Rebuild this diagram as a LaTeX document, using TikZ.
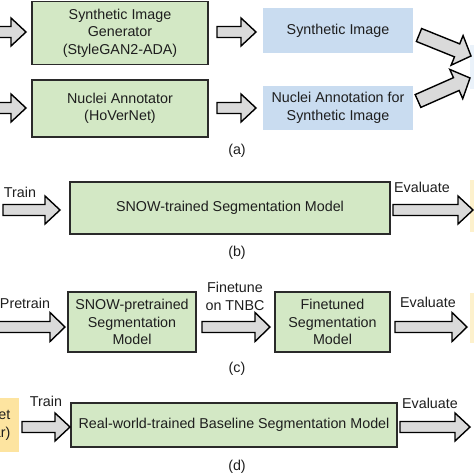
\documentclass[tikz,border=0pt]{standalone}
\usepackage{fontspec}
\setmainfont{Liberation Sans}
\usetikzlibrary{calc}
\definecolor{gfill}{HTML}{D3E8C5}
\definecolor{bfill}{HTML}{C9DCF0}
\definecolor{yfill}{HTML}{FDE4A0}
\definecolor{yfaint}{HTML}{FDF1CC}
\definecolor{bfaint}{HTML}{EAF2FA}
\definecolor{afill}{HTML}{DADADA}
\definecolor{dline}{HTML}{2A2A2A}
\definecolor{txt}{HTML}{1E1E1E}
% \blockarr[body half][head half]{start}{end}
\newcommand{\blockarr}[4][5.5pt]{%
  \coordinate (tmpH) at ($(#4)!15pt!(#3)$);
  \draw[barr] ($(#3)!#1!90:(#4)$) -- ($(tmpH)!#1!90:(#4)$) -- ($(tmpH)!#2!90:(#4)$) -- (#4)
    -- ($(tmpH)!#2!-90:(#4)$) -- ($(tmpH)!#1!-90:(#4)$) -- ($(#3)!#1!-90:(#4)$) -- cycle;}
\begin{document}
\begin{tikzpicture}[x=1pt,y=-1pt,
  font=\fontsize{14.3}{17.5}\selectfont,
  gbox/.style={draw=dline, line width=1.4pt, fill=gfill, align=center, inner sep=0pt, text=txt},
  bbox/.style={fill=bfill, align=center, inner sep=0pt, text=txt},
  lbl/.style={align=center, inner sep=0pt, text=txt},
  barr/.style={draw=black, line width=1.4pt, fill=afill, line join=miter}]
\useasboundingbox (0,0) rectangle (474,474);
\clip (0,0) rectangle (474,474);
\fill[white] (0,0) rectangle (474,474);

% ---------- (a)
\node[gbox, minimum width=176pt, minimum height=63pt] (g1) at (120,33) {Synthetic Image\\Generator\\(StyleGAN2-ADA)};
\node[gbox, minimum width=176pt, minimum height=57pt] (g2) at (120,108.5) {Nuclei Annotator\\(HoVerNet)};
\node[bbox, minimum width=150pt, minimum height=45pt] (b1) at (338,30.5) {Synthetic Image};
\node[bbox, minimum width=150pt, minimum height=44pt] (b2) at (338,108) {Nuclei Annotation for\\Synthetic Image};
\node[fill=bfaint, minimum width=10pt, minimum height=44pt, inner sep=0pt] (bfr) at (475,67) {};
\node[lbl] (capa) at (237,151) {(a)};

\coordinate (a1s) at (-10,32); \coordinate (a1e) at (26,32);
\coordinate (a2s) at (-10,108); \coordinate (a2e) at (26,108);
\coordinate (a3s) at (217,32); \coordinate (a3e) at (256,32);
\coordinate (a4s) at (217,108); \coordinate (a4e) at (256,108);
\coordinate (a5s) at (419,35); \coordinate (a5e) at (471,56);
\coordinate (a6s) at (418,101); \coordinate (a6e) at (470,78);
\blockarr{14pt}{a1s}{a1e}
\blockarr{14pt}{a2s}{a2e}
\blockarr{14pt}{a3s}{a3e}
\blockarr{14pt}{a4s}{a4e}
\blockarr[7pt]{16pt}{a5s}{a5e}
\blockarr[7pt]{16pt}{a6s}{a6e}

% ---------- (b)
\node[gbox, minimum width=320pt, minimum height=52pt] (gb) at (230,208) {SNOW-trained Segmentation Model};
\node[fill=yfaint, minimum width=10pt, minimum height=52pt, inner sep=0pt] (ybr) at (475,206) {};
\node[lbl] (trb) at (20,192) {Train};
\node[lbl] (evb) at (422,187) {Evaluate};
\node[lbl] (capb) at (237,253) {(b)};
\coordinate (b1s) at (3,210); \coordinate (b1e) at (60,210);
\coordinate (b2s) at (393,210); \coordinate (b2e) at (473,210);
\blockarr{14pt}{b1s}{b1e}
\blockarr{14pt}{b2s}{b2e}

% ---------- (c)
\node[gbox, minimum width=128pt, minimum height=60pt] (gc1) at (132,322) {SNOW-pretrained\\Segmentation\\Model};
\node[gbox, minimum width=115pt, minimum height=60pt] (gc2) at (332.5,322) {Finetuned\\Segmentation\\Model};
\node[fill=yfaint, minimum width=10pt, minimum height=50pt, inner sep=0pt] (ycr) at (475,318) {};
\node[lbl] (ptc) at (25,303) {Pretrain};
\node[lbl] (ftc) at (235,296.5) {Finetune\\on TNBC};
\node[lbl] (evc) at (428,302) {Evaluate};
\node[lbl] (capc) at (237,369) {(c)};
\coordinate (c1s) at (-10,327); \coordinate (c1e) at (65,327);
\coordinate (c2s) at (202,327); \coordinate (c2e) at (270,327);
\coordinate (c3s) at (395,327); \coordinate (c3e) at (467,327);
\blockarr{14.5pt}{c1s}{c1e}
\blockarr{14.5pt}{c2s}{c2e}
\blockarr{14.5pt}{c3s}{c3e}

% ---------- (d)
\node[fill=yfill, minimum width=40pt, minimum height=54pt, inner sep=0pt] (yd) at (-1,425) {};
\node[lbl, anchor=east, align=right] (ydt) at (10.5,425) {Dataset\\(Kumar)};
\node[gbox, minimum width=326pt, minimum height=44pt] (gd) at (234,425) {Real-world-trained Baseline Segmentation Model};
\node[lbl] (trd) at (46,401) {Train};
\node[lbl] (evd) at (430,403) {Evaluate};
\node[lbl] (capd) at (237,467) {(d)};
\coordinate (d1s) at (22,427); \coordinate (d1e) at (70,427);
\coordinate (d2s) at (400,427); \coordinate (d2e) at (470,427);
\blockarr{14pt}{d1s}{d1e}
\blockarr{14pt}{d2s}{d2e}
\end{tikzpicture}
\end{document}
